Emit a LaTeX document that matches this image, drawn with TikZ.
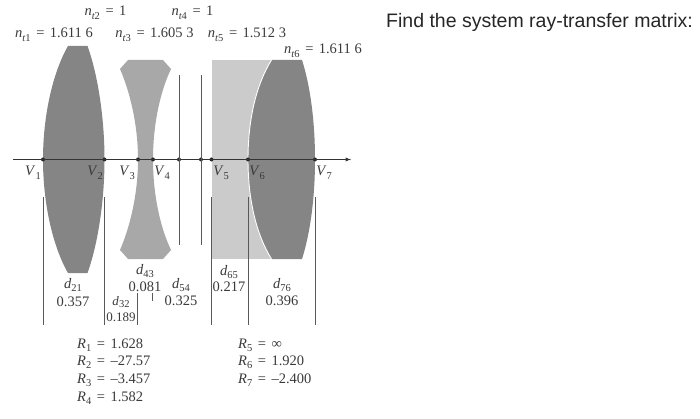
\documentclass[tikz,border=0pt]{standalone}
\usepackage{fontspec}
\setmainfont{Liberation Serif}
\newfontfamily\headfont{Liberation Sans}
\newcommand{\lowidx}[1]{\raisebox{-.22em}{\fontsize{10.5}{10.5}\selectfont #1}}
\newcommand{\tidx}[1]{\lowidx{\textit{t}\kern-.02em#1}}
\newcommand{\eqs}{\kern.14em\ =\ \kern.12em}
\definecolor{darkglass}{HTML}{858585}
\definecolor{midglass}{HTML}{A8A8A8}
\definecolor{lightglass}{HTML}{CBCBCB}
\definecolor{inkgray}{HTML}{3A3A3A}
\begin{document}
\begin{tikzpicture}[x=1pt,y=-1pt,%
% common options for the labels:
lab/.style = {inner sep=0, anchor=base, text=inkgray, font=\fontsize{14.5}{16}\selectfont},
leftlab/.style = {lab, anchor=base west},
smalllab/.style = {lab, font=\fontsize{13}{15}\selectfont},
% common options for the vertices and rules:
vertex/.style = {circle, fill=black!85, minimum size=4pt, inner sep=0},
rule/.style = {draw=black!65, line width=0.9pt}]
\useasboundingbox (0,0) rectangle (700,419);
% glass
\fill[darkglass] (68,46) -- (87.5,46) .. controls (97,72) and (104.5,115) .. (104.5,159.5)
  .. controls (104.5,204) and (97,247) .. (87.5,273) -- (68,273)
  .. controls (53,247) and (43,204) .. (43,159.5) .. controls (43,115) and (53,72) .. (68,46) -- cycle;
\fill[midglass] (128,60) -- (163,60) -- (171,69) .. controls (160,92) and (153,125) .. (153,159.5)
  .. controls (153,194) and (160,227) .. (171,250) -- (163,259) -- (128,259) -- (120,250)
  .. controls (130,227) and (138,194) .. (138,159.5) .. controls (138,125) and (130,92) .. (120,69) -- cycle;
\fill[lightglass] (211.5,60) -- (272,60) -- (272,259) -- (211.5,259) -- cycle;
\fill[darkglass] (271.5,60) -- (302,60) .. controls (310,85) and (315,120) .. (315,159.5)
  .. controls (315,199) and (310,234) .. (302,259) -- (271.5,259)
  .. controls (256,234) and (248,199) .. (248,159.5) .. controls (248,120) and (256,85) .. (271.5,60) -- cycle;
\draw[white, line width=0.9pt] (271.5,60) .. controls (256,85) and (248,120) .. (248,159.5)
  .. controls (248,199) and (256,234) .. (271.5,259);
% vertices on the axis
\coordinate (axisL) at (13,159.5);
\coordinate (axisR) at (351,159.5);
\node[vertex] (P1) at (43,159.5) {};
\node[vertex] (P2) at (104.5,159.5) {};
\node[vertex] (P3) at (138,159.5) {};
\node[vertex] (P4) at (153,159.5) {};
\node[vertex] (S1) at (179,159.5) {};
\node[vertex] (S2) at (201,159.5) {};
\node[vertex] (P5) at (211.5,159.5) {};
\node[vertex] (P6) at (248,159.5) {};
\node[vertex] (P7) at (315,159.5) {};
\draw[black!80, line width=0.9pt, -latex] (axisL) -- (axisR);
% the two stops
\coordinate (S1t) at (179,75);
\coordinate (S1b) at (179,245);
\coordinate (S2t) at (201,75);
\coordinate (S2b) at (201,245);
\draw[rule] (S1t) -- (S1b);
\draw[rule] (S2t) -- (S2b);
% extension lines below the vertices
\coordinate (E1t) at (43,197.5);
\coordinate (E1b) at (43,325);
\coordinate (E2t) at (104.5,197.5);
\coordinate (E2b) at (104.5,325);
\coordinate (E3t) at (137.7,293);
\coordinate (E3b) at (137.7,325);
\coordinate (E4t) at (152,293);
\coordinate (E4b) at (152,301);
\coordinate (E5t) at (211.5,197.5);
\coordinate (E5b) at (211.5,325);
\coordinate (E6t) at (248,197.5);
\coordinate (E6b) at (248,325);
\coordinate (E7t) at (315,197.5);
\coordinate (E7b) at (315,325);
\draw[rule] (E1t) -- (E1b);
\draw[rule] (E2t) -- (E2b);
\draw[rule, line width=0.7pt] (E3t) -- (E3b);
\draw[rule, line width=0.7pt] (E4t) -- (E4b);
\draw[rule] (E5t) -- (E5b);
\draw[rule] (E6t) -- (E6b);
\draw[rule] (E7t) -- (E7b);
% indices
\node[lab] (N2) at (105.5,16) {\textit{n}\tidx{2}\eqs 1};
\node[lab] (N4) at (192.5,16) {\textit{n}\tidx{4}\eqs 1};
\node[lab] (N1) at (54,38) {\textit{n}\tidx{1}\eqs 1.611 6};
\node[lab] (N3) at (154.5,38) {\textit{n}\tidx{3}\eqs 1.605 3};
\node[lab] (N5) at (247,38) {\textit{n}\tidx{5}\eqs 1.512 3};
\node[lab] (N6) at (323,54) {\textit{n}\tidx{6}\eqs 1.611 6};
% vertex names
\node[lab] (V1) at (33,176) {\textit{V}\lowidx{1}};
\node[lab] (V2) at (95,176) {\textit{V}\lowidx{2}};
\node[lab] (V3) at (127,176) {\textit{V}\lowidx{3}};
\node[lab] (V4) at (162,176) {\textit{V}\lowidx{4}};
\node[lab] (V5) at (221,176) {\textit{V}\lowidx{5}};
\node[lab] (V6) at (257,176) {\textit{V}\lowidx{6}};
\node[lab] (V7) at (324,176) {\textit{V}\lowidx{7}};
% thicknesses
\node[lab] (D21) at (73,288) {\textit{d}\lowidx{21}};
\node[lab] (T21) at (73,306) {0.357};
\node[smalllab] (D32) at (121,305) {\textit{d}\lowidx{32}};
\node[smalllab] (T32) at (121,321) {0.189};
\node[lab] (D43) at (145,274) {\textit{d}\lowidx{43}};
\node[lab] (T43) at (145,291) {0.081};
\node[lab] (D54) at (181,288) {\textit{d}\lowidx{54}};
\node[lab] (T54) at (181,305) {0.325};
\node[lab] (D65) at (229,275) {\textit{d}\lowidx{65}};
\node[lab] (T65) at (229,291) {0.217};
\node[lab] (D76) at (282,288) {\textit{d}\lowidx{76}};
\node[lab] (T76) at (282,305) {0.396};
% radii
\node[leftlab] (R1) at (77,348) {\textit{R}\lowidx{1}\eqs 1.628};
\node[leftlab] (R2) at (77,365) {\textit{R}\lowidx{2}\eqs –27.57};
\node[leftlab] (R3) at (77,383) {\textit{R}\lowidx{3}\eqs –3.457};
\node[leftlab] (R4) at (77,401) {\textit{R}\lowidx{4}\eqs 1.582};
\node[leftlab] (R5) at (238,348) {\textit{R}\lowidx{5}\eqs ∞};
\node[leftlab] (R6) at (238,365) {\textit{R}\lowidx{6}\eqs 1.920};
\node[leftlab] (R7) at (238,383) {\textit{R}\lowidx{7}\eqs –2.400};
\node[inner sep=0, anchor=base west, text=black!85, font=\headfont\fontsize{19.5}{22}\selectfont] (Q) at (386,28) {Find the system ray-transfer matrix:};
\end{tikzpicture}
\end{document}
